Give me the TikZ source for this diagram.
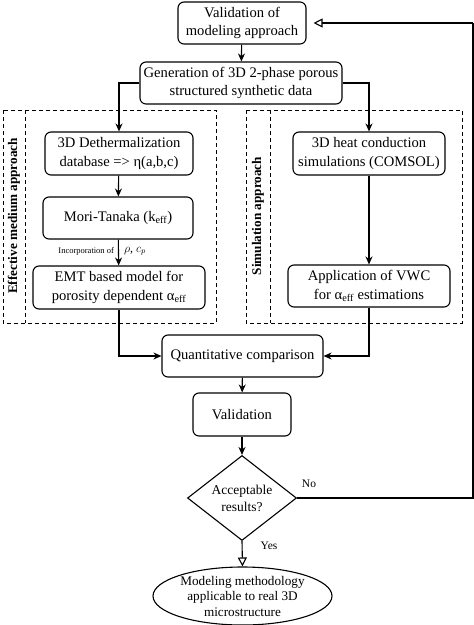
\documentclass[tikz,border=0pt]{standalone}
\usepackage{fontspec}
\setmainfont{Liberation Serif}
\usetikzlibrary{arrows.meta,shapes.geometric}
\begin{document}
\begin{tikzpicture}[x=1pt, y=-1pt, font=\fontsize{14.6}{18.5}\selectfont,
  every node/.style = {align=center, inner sep=1pt},
  stepbox/.style = {shape=rectangle, rounded corners=6pt, draw, line width=1.1pt},
  decbox/.style = {shape=diamond, draw, line width=1.1pt, aspect=1.28, inner sep=0pt},
  endbox/.style = {shape=ellipse, draw, line width=1.1pt, inner sep=0pt},
  group/.style = {draw, dash pattern=on 4pt off 3pt, line width=0.9pt},
  arr/.style = {-{Stealth[length=8pt,width=7pt]}, line width=1.1pt},
  openarr/.style = {-{Triangle[open,length=9pt,width=9pt]}, line width=1.1pt}]
  \useasboundingbox (0,0) rectangle (474,625);
  % dashed groups
  \draw[group] (3,110) rectangle (216,323);
  \draw[group] (25,110) -- (25,323);
  \draw[group] (246,110) rectangle (462,323);
  \draw[group] (270,110) -- (270,323);
  \node[rotate=90, font=\fontsize{13.2}{15}\selectfont\bfseries] (emalabel) at (14,216) {Effective medium approach};
  \node[rotate=90, font=\fontsize{13.2}{15}\selectfont\bfseries] (simlabel) at (258,216) {Simulation approach};
  % steps
  \node[stepbox, minimum width=128pt, minimum height=42pt] (valid0) at (242,23) {Validation of\\modeling approach};
  \node[stepbox, minimum width=202pt, minimum height=42pt] (gen) at (241,83) {Generation of 3D 2-phase porous\\structured synthetic data};
  \node[stepbox, minimum width=148pt, minimum height=43pt] (deth) at (119,153.5) {3D Dethermalization\\database => η(a,b,c)};
  \node[stepbox, minimum width=152pt, minimum height=43pt] (heat) at (369,153.5) {3D heat conduction\\simulations (COMSOL)};
  \node[stepbox, minimum width=150pt, minimum height=42pt] (mori) at (118,218) {Mori-Tanaka (k\textsubscript{eff})};
  \node[stepbox, minimum width=172pt, minimum height=43pt] (emt) at (119,287.5) {EMT based model for\\porosity dependent α\textsubscript{eff}};
  \node[stepbox, minimum width=162pt, minimum height=42pt] (app) at (369,286) {Application of VWC\\for α\textsubscript{eff} estimations};
  \node[stepbox, minimum width=161pt, minimum height=42pt] (quant) at (242.5,356) {Quantitative comparison};
  \node[stepbox, minimum width=98pt, minimum height=43pt] (valid) at (242,414.5) {Validation};
  \node[decbox, minimum width=109pt, minimum height=85pt, font=\fontsize{13.5}{17}\selectfont] (dec) at (242,498) {Acceptable\\results?};
  \node[endbox, minimum width=179pt, minimum height=58pt, font=\fontsize{13.2}{15.5}\selectfont] (final) at (242.5,596) {Modeling methodology\\applicable to real 3D\\microstructure};
  \coordinate (rc) at (473,498);
  \coordinate (rt) at (473,23);
  % connectors
  \draw[arr] (valid0) -- (gen);
  \draw[arr] (gen.west) -| (deth.north);
  \draw[arr] (gen.east) -| (heat.north);
  \draw[arr] (deth) -- (mori);
  \draw[arr] (mori) -- (emt)
    node[pos=0.45, left=3pt, font=\fontsize{8.5}{10}\selectfont] (inclabel) {Incorporation of}
    node[pos=0.45, right=4pt, font=\fontsize{12}{14}\selectfont] (rholabel) {$\rho$, $c_p$};
  \draw[arr] (heat) -- (app);
  \draw[arr] (emt.south) |- (quant.west);
  \draw[arr] (app.south) |- (quant.east);
  \draw[arr] (quant) -- (valid);
  \draw[arr] (valid) -- (dec);
  \draw[line width=1.1pt] (dec.east) -- (rc) -- (rt);
  \draw[openarr, shorten >=7pt] (rt) -- (valid0.east);
  \node[font=\fontsize{11.5}{13}\selectfont] (nolabel) at (309,484) {No};
  \draw[openarr] (dec.south) -- (final.north);
  \node[font=\fontsize{11.5}{13}\selectfont] (yeslabel) at (269,546) {Yes};
\end{tikzpicture}
\end{document}
